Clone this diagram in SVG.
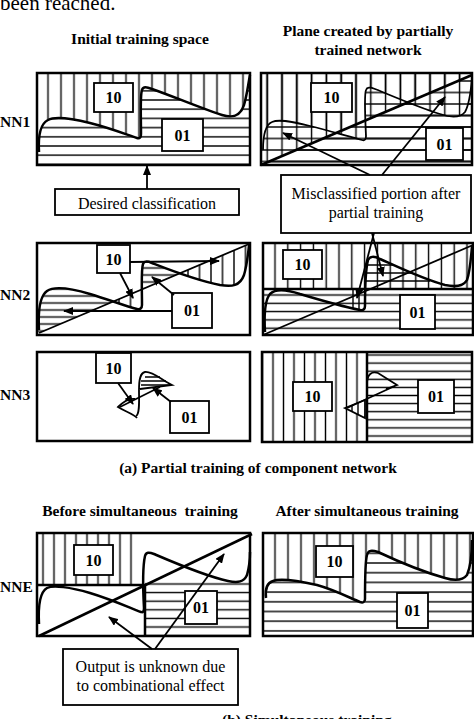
<svg xmlns="http://www.w3.org/2000/svg" width="474" height="719" viewBox="0 0 474 719">
<style>
.t{font-family:"Liberation Serif","Times New Roman",serif;fill:#000}
.h{font-weight:bold;font-size:15.5px}
.b{font-weight:bold;font-size:16px}
.r{font-size:16px}
.fr{fill:none;stroke:#000;stroke-width:2.5}
.bg{fill:#fff}
.box{fill:#fff;stroke:#000;stroke-width:1.8}
.crv{fill:none;stroke:#000;stroke-width:2.5;stroke-linejoin:round}
.thin{fill:none;stroke:#000;stroke-width:1.8}
.hl{fill:none;stroke:#000;stroke-width:1.4}
.arr{fill:none;stroke:#000;stroke-width:1.8;marker-end:url(#ah)}
</style>
<defs>
<marker id="ah" viewBox="0 0 10 8" refX="9" refY="4" markerWidth="10" markerHeight="8" markerUnits="userSpaceOnUse" orient="auto"><path d="M0,0L10,4L0,8z"/></marker>
<marker id="ahb" viewBox="0 0 10 8" refX="9" refY="4" markerWidth="13" markerHeight="11" markerUnits="userSpaceOnUse" orient="auto"><path d="M0,0L10,4L0,8z"/></marker>
<pattern id="p1v" patternUnits="userSpaceOnUse" x="41.5" y="0" width="13" height="10"><path class="hl" d="M6.5,0V10"/></pattern>
<pattern id="p1h" patternUnits="userSpaceOnUse" x="0" y="95.4" width="10" height="9.2"><path class="hl" d="M0,4.6H10"/></pattern>
<pattern id="p2v" patternUnits="userSpaceOnUse" x="274.6" y="0" width="14.8" height="10"><path class="hl" d="M7.4,0V10"/></pattern>
<pattern id="p2h" patternUnits="userSpaceOnUse" x="0" y="98.25" width="10" height="11.5"><path class="hl" d="M0,5.75H10"/></pattern>
<pattern id="p3h" patternUnits="userSpaceOnUse" x="0" y="264.5" width="10" height="7"><path class="hl" d="M0,3.5H10"/></pattern>
<pattern id="p3v" patternUnits="userSpaceOnUse" x="182.25" y="0" width="11.5" height="10"><path class="hl" d="M5.75,0V10"/></pattern>
<pattern id="p4v" patternUnits="userSpaceOnUse" x="268.6" y="0" width="12.8" height="10"><path class="hl" d="M6.4,0V10"/></pattern>
<pattern id="p4h" patternUnits="userSpaceOnUse" x="0" y="290.85" width="10" height="8.3"><path class="hl" d="M0,4.15H10"/></pattern>
<pattern id="p6v" patternUnits="userSpaceOnUse" x="267.75" y="0" width="10.5" height="10"><path class="hl" d="M5.25,0V10"/></pattern>
<pattern id="p6h" patternUnits="userSpaceOnUse" x="0" y="350.95" width="10" height="8.1"><path class="hl" d="M0,4.05H10"/></pattern>
<pattern id="p7v" patternUnits="userSpaceOnUse" x="37.5" y="0" width="11" height="10"><path class="hl" d="M5.5,0V10"/></pattern>
<pattern id="p7h" patternUnits="userSpaceOnUse" x="0" y="579.7" width="10" height="8.6"><path class="hl" d="M0,4.3H10"/></pattern>
<pattern id="p8v" patternUnits="userSpaceOnUse" x="268.5" y="0" width="13" height="10"><path class="hl" d="M6.5,0V10"/></pattern>
<pattern id="p8h" patternUnits="userSpaceOnUse" x="0" y="558.15" width="10" height="9.7"><path class="hl" d="M0,4.85H10"/></pattern>
<clipPath id="c3b"><path d="M37,335 L37,330 L39,330 C38,312 40,296 47,291 C54,286 70,288 90,294 C110,300 125,306 137,309 C140,310 142,308 142,305 C142,290 141,270 143,264 C144,261 147,261 152,263 C170,270 195,280 220,285 C232,287 240,286 244,275 C247,265 248,255 249,245 L250,245 L250,335 Z"/></clipPath>
<clipPath id="c3a"><path d="M37,243 L37,330 L39,330 C38,312 40,296 47,291 C54,286 70,288 90,294 C110,300 125,306 137,309 C140,310 142,308 142,305 C142,290 141,270 143,264 C144,261 147,261 152,263 C170,270 195,280 220,285 C232,287 240,286 244,275 C247,265 248,255 249,245 L250,245 L250,243 Z"/></clipPath>
<clipPath id="c4b"><path d="M263,335 L263,332 L265,332 C264,315 265,300 270,294 C275,289 285,289 300,294 C320,300 345,307 360,310 C363,311 365,309 365,306 C365,290 366,268 368,260 C370,256 374,256 380,259 C400,268 425,280 445,285 C455,287 463,287 467,280 C470,272 471,258 472,246 L473,246 L473,335 Z"/></clipPath>
</defs>

<text class="t" x="0" y="10" font-size="21">been reached.</text>
<text class="t h" x="140" y="44" text-anchor="middle">Initial training space</text>
<text class="t h" x="368" y="36" text-anchor="middle">Plane created by partially</text>
<text class="t h" x="368" y="55" text-anchor="middle">trained network</text>
<text class="t h" x="0" y="127">NN1</text>
<text class="t h" x="0" y="300">NN2</text>
<text class="t h" x="0" y="400">NN3</text>
<text class="t h" x="0" y="592">NNE</text>
<text class="t h" x="258" y="473" text-anchor="middle">(a) Partial training of component network</text>
<text class="t h" x="140" y="516" text-anchor="middle" style="white-space:pre">Before simultaneous  training</text>
<text class="t h" x="367" y="516" text-anchor="middle">After simultaneous training</text>
<text class="t h" x="222" y="725">(b) Simultaneous training</text>

<g id="nn1-initial">
<rect class="bg" x="37" y="73" width="213" height="92"/>
<path fill="url(#p1v)" d="M37,73 L37,152 L39,152 C38,135 40,124 48,120 C55,116 70,118 90,123 C110,128 125,134 137,138 C140,139 141,137 141,134 C141,115 140,95 142,90 C143,86 147,87 152,89 C175,97 200,108 222,115 C232,118 240,117 244,105 C247,95 248,85 250,75 L250,73 Z"/>
<path fill="url(#p1h)" d="M37,165 L37,152 L39,152 C38,135 40,124 48,120 C55,116 70,118 90,123 C110,128 125,134 137,138 C140,139 141,137 141,134 C141,115 140,95 142,90 C143,86 147,87 152,89 C175,97 200,108 222,115 C232,118 240,117 244,105 C247,95 248,85 250,75 L250,165 Z"/>
<path class="crv" d="M39,152 C38,135 40,124 48,120 C55,116 70,118 90,123 C110,128 125,134 137,138 C140,139 141,137 141,134 C141,115 140,95 142,90 C143,86 147,87 152,89 C175,97 200,108 222,115 C232,118 240,117 244,105 C247,95 248,85 250,75"/>
<rect class="fr" x="37" y="73" width="213" height="92"/>
<rect class="box" x="94" y="83" width="39" height="29"/>
<text class="t b" x="113.5" y="103" text-anchor="middle">10</text>
<rect class="box" x="162" y="119" width="41" height="32"/>
<text class="t b" x="182.5" y="140.5" text-anchor="middle">01</text>
</g>

<g id="nn1-partial">
<rect class="bg" x="261" y="73" width="211" height="92"/>
<path fill="url(#p2v)" d="M261,73 H472 V75 L261,165 Z"/>
<path fill="url(#p2v)" d="M261,73 L261,150 L263,150 C263,135 265,125 272,122 C278,119 290,121 310,126 C330,131 350,137 362,140 C365,141 366,139 366,136 C365,115 364,95 366,90 C367,87 370,87 375,89 C395,97 420,108 440,114 C452,118 460,118 465,112 C469,105 471,90 472,78 L472,73 Z"/>
<path fill="url(#p2h)" d="M261,165 L472,75 V165 Z"/>
<path fill="url(#p2h)" d="M261,165 L261,150 L263,150 C263,135 265,125 272,122 C278,119 290,121 310,126 C330,131 350,137 362,140 C365,141 366,139 366,136 C365,115 364,95 366,90 C367,87 370,87 375,89 C395,97 420,108 440,114 C452,118 460,118 465,112 C469,105 471,90 472,78 L472,165 Z"/>
<path class="thin" stroke-width="2" d="M263,150 C263,135 265,125 272,122 C278,119 290,121 310,126 C330,131 350,137 362,140 C365,141 366,139 366,136 C365,115 364,95 366,90 C367,87 370,87 375,89 C395,97 420,108 440,114 C452,118 460,118 465,112 C469,105 471,90 472,78"/>
<path class="crv" stroke-width="3.2" d="M261,165 L472,75"/>
<rect class="fr" x="261" y="73" width="211" height="92"/>
<rect class="box" x="311" y="83" width="41" height="29"/>
<text class="t b" x="331.5" y="103" text-anchor="middle">10</text>
<rect class="box" x="426" y="128" width="37" height="32"/>
<text class="t b" x="444.5" y="149.5" text-anchor="middle">01</text>
</g>

<g id="desired-label">
<rect class="box" x="55" y="189" width="184" height="26"/>
<text class="t r" x="147" y="209" text-anchor="middle">Desired classification</text>
</g>

<g id="misclassified-label">
<rect class="box" x="281" y="175" width="190" height="58"/>
<text class="t r" x="376" y="199" text-anchor="middle">Misclassified portion after</text>
<text class="t r" x="376" y="218" text-anchor="middle">partial training</text>
</g>

<g id="nn2-initial">
<rect class="bg" x="37" y="243" width="213" height="92"/>
<g clip-path="url(#c3b)"><path fill="url(#p3h)" d="M37,243 H250 V244 L39,333 H37 Z"/></g>
<g clip-path="url(#c3a)"><path fill="url(#p3v)" d="M39,333 L249,244 H250 V335 H39 Z"/></g>
<path class="crv" d="M39,330 C38,312 40,296 47,291 C54,286 70,288 90,294 C110,300 125,306 137,309 C140,310 142,308 142,305 C142,290 141,270 143,264 C144,261 147,261 152,263 C170,270 195,280 220,285 C232,287 240,286 244,275 C247,265 248,255 249,245"/>
<path class="thin" stroke-width="2" d="M39,333 L249,244"/>
<rect class="fr" x="37" y="243" width="213" height="92"/>
<rect class="box" x="97" y="245" width="33" height="28"/>
<text class="t b" x="113.5" y="264.5" text-anchor="middle">10</text>
<rect class="box" x="172" y="293" width="40" height="35"/>
<text class="t b" x="192" y="316" text-anchor="middle">01</text>
</g>

<g id="nn2-partial">
<rect class="bg" x="263" y="243" width="210" height="92"/>
<rect fill="url(#p4v)" x="263" y="243" width="210" height="46"/>
<rect fill="url(#p4h)" x="263" y="289" width="210" height="46"/>
<g clip-path="url(#c4b)"><path class="hl" d="M360,265H400M360,273H412M360,281H430"/></g>
<path class="hl" d="M353,289V308M359,289V309"/>
<path class="fr" d="M263,289H473"/>
<path class="crv" stroke-width="2.2" d="M265,332 C264,315 265,300 270,294 C275,289 285,289 300,294 C320,300 345,307 360,310 C363,311 365,309 365,306 C365,290 366,268 368,260 C370,256 374,256 380,259 C400,268 425,280 445,285 C455,287 463,287 467,280 C470,272 471,258 472,246"/>
<path class="thin" stroke-width="2" d="M263,335 L473,245"/>
<rect class="fr" x="263" y="243" width="210" height="92"/>
<rect class="box" x="283" y="250" width="39" height="29"/>
<text class="t b" x="302.5" y="270" text-anchor="middle">10</text>
<rect class="box" x="400" y="295" width="35" height="34"/>
<text class="t b" x="417.5" y="317.5" text-anchor="middle">01</text>
</g>

<g id="nn3-initial">
<rect class="bg" x="37" y="352" width="213" height="89"/>
<path class="thin" stroke-width="2" d="M137,418 C134,414 126,412 118,407 C124,401 130,398 135,399"/>
<path class="thin" stroke-width="2" d="M136,416 C140,414 139,400 139,390 C139,380 140,373 145,372 C152,371 162,380 172,385 L140,389"/>
<path class="thin" d="M120,407 L160,387"/>
<path class="hl" d="M145,377H160M141,381H166M141,385H170"/>
<rect class="fr" x="37" y="352" width="213" height="89"/>
<rect class="box" x="96" y="353" width="35" height="30"/>
<text class="t b" x="113.5" y="373.5" text-anchor="middle">10</text>
<rect class="box" x="170" y="401" width="39" height="32"/>
<text class="t b" x="189.5" y="422.5" text-anchor="middle">01</text>
</g>

<g id="nn3-partial">
<rect class="bg" x="262" y="352" width="210" height="90"/>
<rect fill="url(#p6v)" x="262" y="352" width="105" height="90"/>
<rect fill="url(#p6h)" x="367" y="352" width="105" height="90"/>
<path class="fr" d="M367,352V442"/>
<path class="bg" d="M345,408 L365,400 L365,418 Z"/>
<path class="hl" d="M352,405V412M358,402V415"/>
<path class="thin" stroke-width="2" d="M345,408 L365,400 L365,418 Z"/>
<path class="thin" stroke-width="2" d="M347,408 L397,385 M367,384 C367,374 372,371 378,373 L397,385 L386,389"/>
<rect class="fr" x="262" y="352" width="210" height="90"/>
<rect class="box" x="293" y="382" width="39" height="29"/>
<text class="t b" x="312.5" y="402" text-anchor="middle">10</text>
<rect class="box" x="418" y="380" width="36" height="33"/>
<text class="t b" x="436" y="402" text-anchor="middle">01</text>
</g>

<g id="nne-before">
<rect class="bg" x="37" y="533" width="213" height="103"/>
<rect fill="url(#p7v)" x="37" y="533" width="103" height="52"/>
<rect fill="url(#p7h)" x="145" y="582" width="105" height="54"/>
<path class="fr" stroke-width="2" d="M37,585H145V636"/>
<path class="crv" d="M39,624 C38,605 40,592 47,588 C53,585 70,587 90,593 C110,599 128,607 141,612 C143,613 144,611 144,608 C143,590 143,565 145,556 C146,552 149,552 154,554 C175,563 205,576 228,581 C238,583 244,582 247,575 C249,568 250,560 250,552"/>
<path class="crv" d="M39,636 L252,534"/>
<rect class="fr" x="37" y="533" width="213" height="103"/>
<rect class="box" x="74" y="545" width="39" height="30"/>
<text class="t b" x="93.5" y="565.5" text-anchor="middle">10</text>
<rect class="box" x="185" y="591" width="32" height="33"/>
<text class="t b" x="201" y="613" text-anchor="middle">01</text>
</g>

<g id="nne-after">
<rect class="bg" x="263" y="533" width="210" height="103"/>
<path fill="url(#p8v)" d="M263,533 L263,598 L266,598 C265,590 267,583 273,581 C280,578 295,580 317,585 C335,590 350,598 360,602 C363,603 365,602 365,599 C365,585 365,562 367,555 C368,550 372,550 378,552 C395,560 420,571 445,578 C455,581 463,580 467,575 C470,568 472,555 472,540 L473,540 L473,533 Z"/>
<path fill="url(#p8h)" d="M263,636 L263,598 L266,598 C265,590 267,583 273,581 C280,578 295,580 317,585 C335,590 350,598 360,602 C363,603 365,602 365,599 C365,585 365,562 367,555 C368,550 372,550 378,552 C395,560 420,571 445,578 C455,581 463,580 467,575 C470,568 472,555 472,540 L473,540 L473,636 Z"/>
<path class="crv" d="M266,598 C265,590 267,583 273,581 C280,578 295,580 317,585 C335,590 350,598 360,602 C363,603 365,602 365,599 C365,585 365,562 367,555 C368,550 372,550 378,552 C395,560 420,571 445,578 C455,581 463,580 467,575 C470,568 472,555 472,540"/>
<rect class="fr" x="263" y="533" width="210" height="103"/>
<rect class="box" x="316" y="546" width="37" height="31"/>
<text class="t b" x="334.5" y="567" text-anchor="middle">10</text>
<rect class="box" x="397" y="593" width="31" height="35"/>
<text class="t b" x="412.5" y="616" text-anchor="middle">01</text>
</g>

<g id="output-label">
<rect class="box" x="63" y="649" width="175" height="56"/>
<text class="t r" x="150.5" y="672" text-anchor="middle">Output is unknown due</text>
<text class="t r" x="150.5" y="691" text-anchor="middle">to combinational effect</text>
</g>

<g id="connectors">
<path class="arr" stroke-width="2.6" marker-end="url(#ahb)" d="M147,189 L147,166"/>
<path class="arr" d="M370,175 L283,133"/>
<path class="arr" d="M382,175 L445,97"/>
<path class="arr" d="M372,233 L383,276"/>
<path class="arr" d="M374,233 L357,298"/>
<path class="arr" d="M130,262 L219,261"/>
<path class="arr" d="M120,273 L133,298"/>
<path class="arr" d="M174,295 L152,277"/>
<path class="arr" d="M172,311 L64,311"/>
<path class="arr" d="M118,383 L133,404"/>
<path class="arr" d="M171,402 L153,388"/>
<path class="arr" d="M152,649 L109,617"/>
<path class="arr" d="M155,649 L224,554"/>
</g>
</svg>
